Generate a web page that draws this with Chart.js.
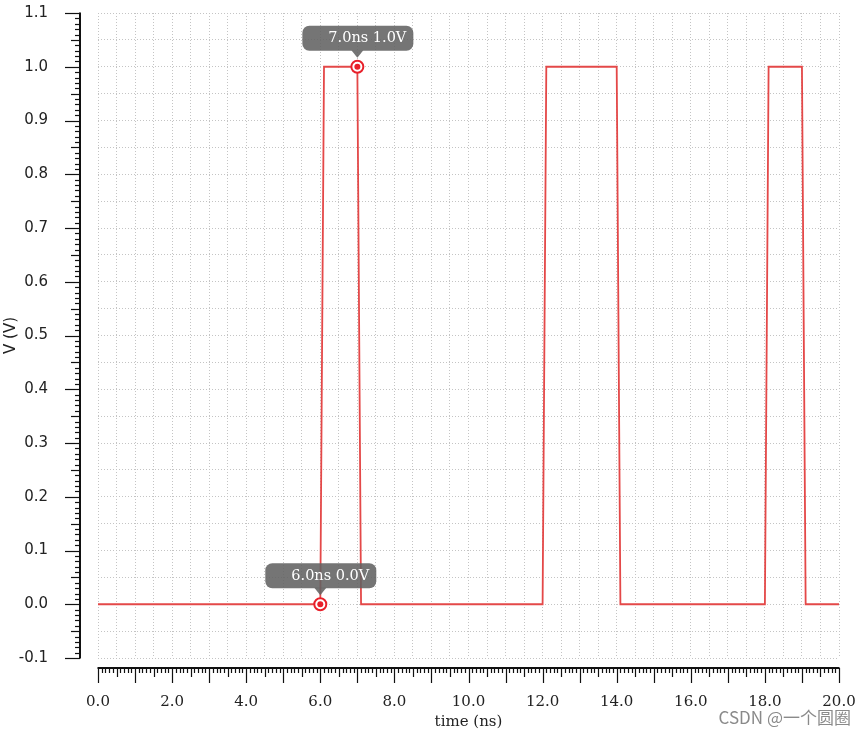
<!DOCTYPE html>
<html><head><meta charset="utf-8">
<script src="https://cdn.jsdelivr.net/npm/chart.js@4"></script>
<style>html,body{margin:0;padding:0;background:#fff}#wrap{width:865px;height:736px;position:relative}</style>
</head><body><div id="wrap"><canvas id="c" width="865" height="736"></canvas></div>
<script>
// ---- data ----
const timeNs  = [0, 6.0, 6.1, 7.0, 7.1, 12.0, 12.1, 14.0, 14.1, 18.0, 18.1, 19.0, 19.1, 20.0];
const voltage = [0, 0.0, 1.0, 1.0, 0.0, 0.0,  1.0,  1.0,  0.0,  0.0,  1.0,  1.0,  0.0,  0.0];
const markerTimes  = [6.0, 7.0];
const markerVolts  = [0.0, 1.0];
const markerLabels = ['6.0ns 0.0V', '7.0ns 1.0V'];
const xTickLabels = [0, 2, 4, 6, 8, 10, 12, 14, 16, 18, 20];
const yTickLabels = [-0.1, 0.0, 0.1, 0.2, 0.3, 0.4, 0.5, 0.6, 0.7, 0.8, 0.9, 1.0, 1.1];
const xTitle = 'time (ns)';
const yTitle = 'V (V)';
const watermark = 'CSDN @一个圆圈';

const near = (a, b) => Math.abs(a - b) < 1e-6;
const GRID = '#c4c4c4';

const rulerPlugin = {
  id: 'ruler',
  afterDraw(chart) {
    const {ctx, chartArea: a, scales: {x, y}} = chart;
    ctx.save();
    ctx.strokeStyle = '#111';
    // y axis ruler
    const ax = a.left - 18;
    ctx.lineWidth = 2;
    ctx.beginPath();
    ctx.moveTo(ax, y.getPixelForValue(1.1) - 0.5);
    ctx.lineTo(ax, y.getPixelForValue(-0.1) + 0.5);
    ctx.stroke();
    ctx.lineWidth = 1.2;
    for (let i = 0; i <= 120; i++) {
      const v = -0.1 + i * 0.01;
      const py = Math.round(y.getPixelForValue(v)) + 0.5;
      const len = i % 10 === 0 ? 15 : (i % 5 === 0 ? 9 : 5);
      ctx.beginPath(); ctx.moveTo(ax, py); ctx.lineTo(ax - len, py); ctx.stroke();
    }
    // x axis ruler
    const ay = a.bottom + 10;
    ctx.lineWidth = 2;
    ctx.beginPath();
    ctx.moveTo(x.getPixelForValue(0) - 0.5, ay);
    ctx.lineTo(x.getPixelForValue(20) + 0.5, ay);
    ctx.stroke();
    ctx.lineWidth = 1.2;
    for (let i = 0; i <= 200; i++) {
      const v = i * 0.1;
      const px = Math.round(x.getPixelForValue(v)) + 0.5;
      const len = i % 10 === 0 ? 15 : (i % 5 === 0 ? 9 : 5);
      ctx.beginPath(); ctx.moveTo(px, ay); ctx.lineTo(px, ay + len); ctx.stroke();
    }
    // watermark
    ctx.font = '17px "Noto Sans CJK SC", "Noto Sans", sans-serif';
    ctx.fillStyle = 'rgba(125,125,125,0.9)';
    ctx.textAlign = 'right';
    ctx.textBaseline = 'middle';
    ctx.fillText(watermark, 851, 718);
    ctx.restore();
  }
};

const markerPlugin = {
  id: 'markers',
  afterDatasetsDraw(chart) {
    const {ctx, scales: {x, y}} = chart;
    ctx.save();
    markerTimes.forEach((t, i) => {
      const mx = x.getPixelForValue(t), my = y.getPixelForValue(markerVolts[i]);
      // callout box
      ctx.fillStyle = 'rgba(98,98,98,0.88)';
      ctx.beginPath();
      ctx.roundRect(mx - 55, my - 41, 111, 25, 7);
      ctx.fill();
      ctx.beginPath();
      ctx.moveTo(mx - 6, my - 16.5);
      ctx.lineTo(mx + 6, my - 16.5);
      ctx.lineTo(mx, my - 9);
      ctx.closePath();
      ctx.fill();
      ctx.fillStyle = '#fff';
      ctx.font = '14.5px "DejaVu Serif", serif';
      ctx.textAlign = 'left';
      ctx.textBaseline = 'middle';
      ctx.fillText(markerLabels[i], mx - 29, my - 28.5);
      // marker
      ctx.beginPath();
      ctx.arc(mx, my, 6, 0, Math.PI * 2);
      ctx.fillStyle = '#fff';
      ctx.fill();
      ctx.lineWidth = 2;
      ctx.strokeStyle = '#e8202a';
      ctx.stroke();
      ctx.beginPath();
      ctx.arc(mx, my, 3, 0, Math.PI * 2);
      ctx.fillStyle = '#e8202a';
      ctx.fill();
    });
    ctx.restore();
  }
};

new Chart(document.getElementById('c'), {
  type: 'line',
  data: {
    datasets: [{
      data: timeNs.map((t, i) => ({x: t, y: voltage[i]})),
      borderColor: '#e44848',
      borderWidth: 1.8,
      pointRadius: 0,
      tension: 0,
      fill: false
    }]
  },
  options: {
    responsive: false,
    devicePixelRatio: 1,
    animation: false,
    layout: {padding: {left: 0, right: 26, top: 12, bottom: 0}},
    plugins: {legend: {display: false}, tooltip: {enabled: false}},
    scales: {
      x: {
        type: 'linear', min: 0, max: 20,
        afterBuildTicks: s => { const t = []; for (let i = 0; i <= 40; i++) t.push({value: i * 0.5}); s.ticks = t; },
        afterFit: s => { s.height = 78; },
        ticks: {
          autoSkip: false, maxRotation: 0, padding: 4, color: '#222',
          font: {family: '"DejaVu Serif", serif', size: 15},
          callback: v => xTickLabels.some(l => near(l, v)) ? v.toFixed(1) : ''
        },
        grid: {color: GRID, lineWidth: 1, drawTicks: true, tickLength: 31, tickColor: 'rgba(0,0,0,0)'},
        border: {display: false, dash: [1, 2]},
        title: {display: true, text: xTitle, color: '#222', font: {family: '"DejaVu Serif", serif', size: 15}, padding: {top: 0, bottom: 5}}
      },
      y: {
        type: 'linear', min: -0.1, max: 1.1,
        afterBuildTicks: s => { const t = []; for (let i = 0; i <= 24; i++) t.push({value: Math.round((-0.1 + i * 0.05) * 1000) / 1000}); s.ticks = t; },
        afterFit: s => { s.width = 98; },
        ticks: {
          autoSkip: false, padding: 4, color: '#222',
          font: {family: '"DejaVu Sans", sans-serif', size: 15},
          callback: v => yTickLabels.some(l => near(l, v)) ? v.toFixed(1) : ''
        },
        grid: {color: GRID, lineWidth: 1, drawTicks: true, tickLength: 46, tickColor: 'rgba(0,0,0,0)'},
        border: {display: false, dash: [1, 2]},
        title: {display: true, text: yTitle, color: '#222', font: {family: '"DejaVu Sans", sans-serif', size: 15}, padding: {top: 2, bottom: 0}}
      }
    }
  },
  plugins: [markerPlugin, rulerPlugin]
});
</script></body></html>
